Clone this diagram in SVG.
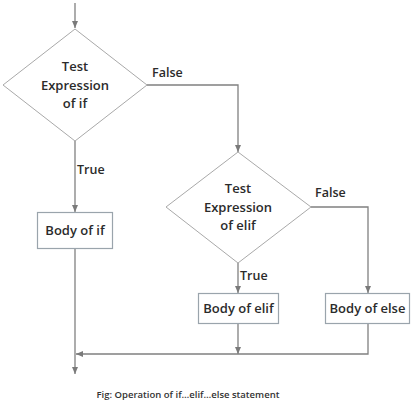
<svg xmlns="http://www.w3.org/2000/svg" width="412" height="407" viewBox="0 0 412 407">
<defs>
<marker id="ah" markerWidth="8" markerHeight="8" refX="7" refY="4" orient="auto" markerUnits="userSpaceOnUse">
<path d="M0,1 L7,4 L0,7 Z" fill="#7a7a7a"/>
</marker>
<style>
.ln{fill:none;stroke:#808080;stroke-width:1.3}
.dm{fill:#fff;stroke:#a9a9a9;stroke-width:1}
.bx{fill:#fff;stroke:#9aa4ac;stroke-width:1.2}
.t{font-family:"Open Sans","Noto Sans",sans-serif;font-weight:600;font-size:13px;fill:#2b2b2b;text-anchor:middle}
.lb{font-family:"Open Sans","Noto Sans",sans-serif;font-weight:600;font-size:12.5px;fill:#2b2b2b}
.cap{font-family:"Open Sans","Noto Sans",sans-serif;font-weight:600;font-size:9.5px;fill:#333;text-anchor:middle}
</style>
</defs>
<rect width="412" height="407" fill="#fff"/>
<g id="connectors">
<path class="ln" d="M75,3 V28" marker-end="url(#ah)"/>
<path class="ln" d="M75,141 V212" marker-end="url(#ah)"/>
<path class="ln" d="M147,85 H238 V152" marker-end="url(#ah)"/>
<path class="ln" d="M238,263 V293" marker-end="url(#ah)"/>
<path class="ln" d="M311,207 H368 V293" marker-end="url(#ah)"/>
<path class="ln" d="M238,324 V354" marker-end="url(#ah)"/>
<path class="ln" d="M368,324 V354 H76" marker-end="url(#ah)"/>
<path class="ln" d="M75,249 V374" marker-end="url(#ah)"/>
<text class="lb" x="152" y="77">False</text>
<text class="lb" x="77" y="174">True</text>
<text class="lb" x="315" y="197">False</text>
<text class="lb" x="240" y="280">True</text>
</g>
<g id="cond-if">
<polygon class="dm" points="75,29 147,85 75,141 3,85"/>
<text class="t" x="75" y="71">Test</text>
<text class="t" x="75" y="90">Expression</text>
<text class="t" x="75" y="108">of if</text>
</g>
<g id="body-if">
<rect class="bx" x="37.5" y="212.5" width="75" height="36"/>
<text class="t" x="75" y="235">Body of if</text>
</g>
<g id="cond-elif">
<polygon class="dm" points="238,152 311,207 238,263 166,207"/>
<text class="t" x="238" y="193">Test</text>
<text class="t" x="238" y="212">Expression</text>
<text class="t" x="238" y="230">of elif</text>
</g>
<g id="body-elif">
<rect class="bx" x="198.5" y="293.5" width="80" height="30"/>
<text class="t" x="238.5" y="313">Body of elif</text>
</g>
<g id="body-else">
<rect class="bx" x="325.5" y="293.5" width="84" height="30"/>
<text class="t" x="367.5" y="313">Body of else</text>
</g>
<text class="cap" x="188" y="398">Fig: Operation of if…elif…else statement</text>
</svg>
